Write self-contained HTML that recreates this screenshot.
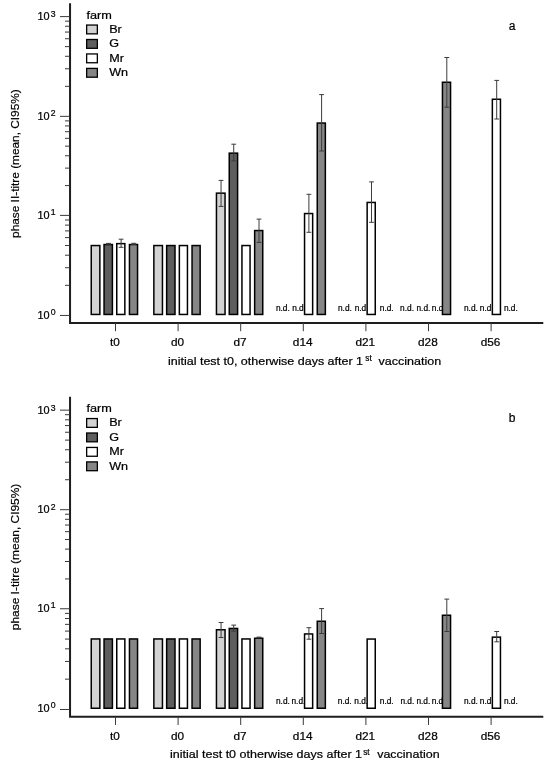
<!DOCTYPE html>
<html><head><meta charset="utf-8"><title>phase titres</title>
<style>html,body{margin:0;padding:0;background:#fff}svg{display:block}text{font-family:"Liberation Sans", Arial, sans-serif;fill:#000;stroke:#000;stroke-width:0.22px}</style>
</head><body>
<svg width="550" height="768" viewBox="0 0 550 768">
<rect width="550" height="768" fill="#fff"/>
<g>
<text x="275.9" y="311.0" font-size="8.3" stroke="#000" stroke-width="0.25">n.d.</text>
<text x="292.2" y="311.0" font-size="8.3" stroke="#000" stroke-width="0.25">n.d.</text>
<text x="338.0" y="311.0" font-size="8.3" stroke="#000" stroke-width="0.25">n.d.</text>
<text x="354.7" y="311.0" font-size="8.3" stroke="#000" stroke-width="0.25">n.d.</text>
<text x="379.8" y="311.0" font-size="8.3" stroke="#000" stroke-width="0.25">n.d.</text>
<text x="400.1" y="311.0" font-size="8.3" stroke="#000" stroke-width="0.25">n.d.</text>
<text x="416.5" y="311.0" font-size="8.3" stroke="#000" stroke-width="0.25">n.d.</text>
<text x="431.8" y="311.0" font-size="8.3" stroke="#000" stroke-width="0.25">n.d.</text>
<text x="464.0" y="311.3" font-size="8.3" stroke="#000" stroke-width="0.25">n.d.</text>
<text x="479.8" y="311.3" font-size="8.3" stroke="#000" stroke-width="0.25">n.d.</text>
<text x="503.9" y="311.3" font-size="8.3" stroke="#000" stroke-width="0.25">n.d.</text>
<rect x="91.25" y="245.55" width="8.60" height="68.90" fill="#d2d2d2" stroke="#000" stroke-width="1.5"/>
<rect x="104.05" y="244.55" width="8.35" height="69.90" fill="#5e5e5e" stroke="#000" stroke-width="1.5"/>
<path d="M108.52 243.40V244.20M106.12 243.40H110.92M106.12 244.20H110.92" fill="none" stroke="#3c3c3c" stroke-width="1"/>
<rect x="116.75" y="243.65" width="8.10" height="70.80" fill="#ffffff" stroke="#000" stroke-width="1.5"/>
<path d="M121.10 239.20V247.30M118.70 239.20H123.50M118.70 247.30H123.50" fill="none" stroke="#3c3c3c" stroke-width="1"/>
<rect x="129.45" y="244.55" width="8.10" height="69.90" fill="#868686" stroke="#000" stroke-width="1.5"/>
<path d="M133.80 243.30V244.30M131.40 243.30H136.20M131.40 244.30H136.20" fill="none" stroke="#3c3c3c" stroke-width="1"/>
<rect x="153.85" y="245.55" width="8.60" height="68.90" fill="#d2d2d2" stroke="#000" stroke-width="1.5"/>
<rect x="166.65" y="245.55" width="8.35" height="68.90" fill="#5e5e5e" stroke="#000" stroke-width="1.5"/>
<rect x="179.35" y="245.55" width="8.10" height="68.90" fill="#ffffff" stroke="#000" stroke-width="1.5"/>
<rect x="192.05" y="245.55" width="8.10" height="68.90" fill="#868686" stroke="#000" stroke-width="1.5"/>
<rect x="216.45" y="193.15" width="8.60" height="121.30" fill="#d2d2d2" stroke="#000" stroke-width="1.5"/>
<path d="M221.05 180.40V206.40M218.65 180.40H223.45M218.65 206.40H223.45" fill="none" stroke="#3c3c3c" stroke-width="1"/>
<rect x="229.25" y="153.15" width="8.35" height="161.30" fill="#5e5e5e" stroke="#000" stroke-width="1.5"/>
<path d="M233.73 144.20V160.90M231.33 144.20H236.13M231.33 160.90H236.13" fill="none" stroke="#3c3c3c" stroke-width="1"/>
<rect x="241.95" y="245.55" width="8.10" height="68.90" fill="#ffffff" stroke="#000" stroke-width="1.5"/>
<rect x="254.65" y="230.55" width="8.10" height="83.90" fill="#868686" stroke="#000" stroke-width="1.5"/>
<path d="M259.00 219.10V242.40M256.60 219.10H261.40M256.60 242.40H261.40" fill="none" stroke="#3c3c3c" stroke-width="1"/>
<rect x="304.55" y="213.55" width="8.10" height="100.90" fill="#ffffff" stroke="#000" stroke-width="1.5"/>
<path d="M308.90 194.30V232.30M306.50 194.30H311.30M306.50 232.30H311.30" fill="none" stroke="#3c3c3c" stroke-width="1"/>
<rect x="317.25" y="123.05" width="8.10" height="191.40" fill="#868686" stroke="#000" stroke-width="1.5"/>
<path d="M321.60 94.60V151.00M319.20 94.60H324.00M319.20 151.00H324.00" fill="none" stroke="#3c3c3c" stroke-width="1"/>
<rect x="367.15" y="202.45" width="8.10" height="112.00" fill="#ffffff" stroke="#000" stroke-width="1.5"/>
<path d="M371.50 181.90V222.30M369.10 181.90H373.90M369.10 222.30H373.90" fill="none" stroke="#3c3c3c" stroke-width="1"/>
<rect x="442.45" y="82.25" width="8.10" height="232.20" fill="#868686" stroke="#000" stroke-width="1.5"/>
<path d="M446.80 57.50V107.20M444.40 57.50H449.20M444.40 107.20H449.20" fill="none" stroke="#3c3c3c" stroke-width="1"/>
<rect x="492.35" y="99.25" width="8.10" height="215.20" fill="#ffffff" stroke="#000" stroke-width="1.5"/>
<path d="M496.70 80.40V119.00M494.30 80.40H499.10M494.30 119.00H499.10" fill="none" stroke="#3c3c3c" stroke-width="1"/>
<path d="M70.05 3.2V322.9H543.3" fill="none" stroke="#1e1e1e" stroke-width="2" stroke-linejoin="miter"/>
<path d="M60 315.45H69.5" stroke="#3a3a3a" stroke-width="1"/>
<text x="37.40" y="318.55" font-size="10.6" textLength="12.12" lengthAdjust="spacingAndGlyphs">10</text>
<text x="50.7" y="314.55" font-size="8.7">0</text>
<path d="M65 285.33H69.5" stroke="#3a3a3a" stroke-width="1"/>
<path d="M65 267.71H69.5" stroke="#3a3a3a" stroke-width="1"/>
<path d="M65 255.21H69.5" stroke="#3a3a3a" stroke-width="1"/>
<path d="M65 245.52H69.5" stroke="#3a3a3a" stroke-width="1"/>
<path d="M65 237.60H69.5" stroke="#3a3a3a" stroke-width="1"/>
<path d="M65 230.90H69.5" stroke="#3a3a3a" stroke-width="1"/>
<path d="M65 225.10H69.5" stroke="#3a3a3a" stroke-width="1"/>
<path d="M65 219.98H69.5" stroke="#3a3a3a" stroke-width="1"/>
<path d="M60 215.40H69.5" stroke="#3a3a3a" stroke-width="1"/>
<text x="37.40" y="218.90" font-size="10.6" textLength="12.12" lengthAdjust="spacingAndGlyphs">10</text>
<text x="50.7" y="215.00" font-size="8.7">1</text>
<path d="M65 185.58H69.5" stroke="#3a3a3a" stroke-width="1"/>
<path d="M65 168.14H69.5" stroke="#3a3a3a" stroke-width="1"/>
<path d="M65 155.77H69.5" stroke="#3a3a3a" stroke-width="1"/>
<path d="M65 146.17H69.5" stroke="#3a3a3a" stroke-width="1"/>
<path d="M65 138.32H69.5" stroke="#3a3a3a" stroke-width="1"/>
<path d="M65 131.69H69.5" stroke="#3a3a3a" stroke-width="1"/>
<path d="M65 125.95H69.5" stroke="#3a3a3a" stroke-width="1"/>
<path d="M65 120.88H69.5" stroke="#3a3a3a" stroke-width="1"/>
<path d="M60 116.35H69.5" stroke="#3a3a3a" stroke-width="1"/>
<text x="37.40" y="120.20" font-size="10.6" textLength="12.12" lengthAdjust="spacingAndGlyphs">10</text>
<text x="50.7" y="115.90" font-size="8.7">2</text>
<path d="M65 86.32H69.5" stroke="#3a3a3a" stroke-width="1"/>
<path d="M65 68.76H69.5" stroke="#3a3a3a" stroke-width="1"/>
<path d="M65 56.29H69.5" stroke="#3a3a3a" stroke-width="1"/>
<path d="M65 46.63H69.5" stroke="#3a3a3a" stroke-width="1"/>
<path d="M65 38.73H69.5" stroke="#3a3a3a" stroke-width="1"/>
<path d="M65 32.05H69.5" stroke="#3a3a3a" stroke-width="1"/>
<path d="M65 26.27H69.5" stroke="#3a3a3a" stroke-width="1"/>
<path d="M65 21.16H69.5" stroke="#3a3a3a" stroke-width="1"/>
<path d="M60 16.60H69.5" stroke="#3a3a3a" stroke-width="1"/>
<text x="37.40" y="19.70" font-size="10.6" textLength="12.12" lengthAdjust="spacingAndGlyphs">10</text>
<text x="50.7" y="17.20" font-size="8.7">3</text>
<path d="M115.50 322.9V331.2" stroke="#3a3a3a" stroke-width="1"/>
<text x="109.98" y="345.90" font-size="11.3" textLength="9.84" lengthAdjust="spacingAndGlyphs">t0</text>
<path d="M178.10 322.9V331.2" stroke="#3a3a3a" stroke-width="1"/>
<text x="170.94" y="345.90" font-size="11.3" textLength="13.13" lengthAdjust="spacingAndGlyphs">d0</text>
<path d="M240.70 322.9V331.2" stroke="#3a3a3a" stroke-width="1"/>
<text x="233.54" y="345.90" font-size="11.3" textLength="13.13" lengthAdjust="spacingAndGlyphs">d7</text>
<path d="M303.30 322.9V331.2" stroke="#3a3a3a" stroke-width="1"/>
<text x="292.86" y="345.90" font-size="11.3" textLength="19.69" lengthAdjust="spacingAndGlyphs">d14</text>
<path d="M365.90 322.9V331.2" stroke="#3a3a3a" stroke-width="1"/>
<text x="355.46" y="345.90" font-size="11.3" textLength="19.69" lengthAdjust="spacingAndGlyphs">d21</text>
<path d="M428.50 322.9V331.2" stroke="#3a3a3a" stroke-width="1"/>
<text x="418.06" y="345.90" font-size="11.3" textLength="19.69" lengthAdjust="spacingAndGlyphs">d28</text>
<path d="M491.10 322.9V331.2" stroke="#3a3a3a" stroke-width="1"/>
<text x="480.66" y="345.90" font-size="11.3" textLength="19.69" lengthAdjust="spacingAndGlyphs">d56</text>
<text x="86.50" y="18.70" font-size="11.6" textLength="25.40" lengthAdjust="spacingAndGlyphs">farm</text>
<rect x="86.65" y="25.05" width="10.7" height="8.799999999999999" fill="#d2d2d2" stroke="#000" stroke-width="1.3"/>
<text x="109.20" y="32.80" font-size="11.3" textLength="12.60" lengthAdjust="spacingAndGlyphs">Br</text>
<rect x="86.65" y="39.50" width="10.7" height="8.799999999999999" fill="#5e5e5e" stroke="#000" stroke-width="1.3"/>
<text x="109.20" y="47.25" font-size="11.3" textLength="9.80" lengthAdjust="spacingAndGlyphs">G</text>
<rect x="86.65" y="53.95" width="10.7" height="8.799999999999999" fill="#ffffff" stroke="#000" stroke-width="1.3"/>
<text x="109.20" y="61.70" font-size="11.3" textLength="14.69" lengthAdjust="spacingAndGlyphs">Mr</text>
<rect x="86.65" y="68.40" width="10.7" height="8.799999999999999" fill="#868686" stroke="#000" stroke-width="1.3"/>
<text x="109.20" y="76.15" font-size="11.3" textLength="18.90" lengthAdjust="spacingAndGlyphs">Wn</text>
<text x="508.8" y="29.70" font-size="12">a</text>
<text transform="translate(18.5 237.90) rotate(-90)" font-size="11.8" textLength="148.6" lengthAdjust="spacingAndGlyphs">phase II-titre (mean, CI95%)</text>
<text x="168" y="365" font-size="11.6" textLength="195" lengthAdjust="spacingAndGlyphs">initial test t0, otherwise days after 1</text><text x="365.3" y="361.4" font-size="8.2">st</text><text x="378.6" y="365" font-size="11.6" textLength="62.6" lengthAdjust="spacingAndGlyphs">vaccination</text>
</g>
<g>
<text x="276.0" y="704.3" font-size="8.3" stroke="#000" stroke-width="0.25">n.d.</text>
<text x="291.5" y="704.3" font-size="8.3" stroke="#000" stroke-width="0.25">n.d.</text>
<text x="337.8" y="704.3" font-size="8.3" stroke="#000" stroke-width="0.25">n.d.</text>
<text x="354.3" y="704.3" font-size="8.3" stroke="#000" stroke-width="0.25">n.d.</text>
<text x="379.8" y="704.3" font-size="8.3" stroke="#000" stroke-width="0.25">n.d.</text>
<text x="400.4" y="704.3" font-size="8.3" stroke="#000" stroke-width="0.25">n.d.</text>
<text x="416.4" y="704.3" font-size="8.3" stroke="#000" stroke-width="0.25">n.d.</text>
<text x="431.7" y="704.3" font-size="8.3" stroke="#000" stroke-width="0.25">n.d.</text>
<text x="464.0" y="704.3" font-size="8.3" stroke="#000" stroke-width="0.25">n.d.</text>
<text x="479.8" y="704.3" font-size="8.3" stroke="#000" stroke-width="0.25">n.d.</text>
<text x="503.9" y="703.9" font-size="8.3" stroke="#000" stroke-width="0.25">n.d.</text>
<rect x="91.25" y="638.95" width="8.60" height="69.30" fill="#d2d2d2" stroke="#000" stroke-width="1.5"/>
<rect x="104.05" y="638.95" width="8.35" height="69.30" fill="#5e5e5e" stroke="#000" stroke-width="1.5"/>
<rect x="116.75" y="638.95" width="8.10" height="69.30" fill="#ffffff" stroke="#000" stroke-width="1.5"/>
<rect x="129.45" y="638.95" width="8.10" height="69.30" fill="#868686" stroke="#000" stroke-width="1.5"/>
<rect x="153.85" y="638.95" width="8.60" height="69.30" fill="#d2d2d2" stroke="#000" stroke-width="1.5"/>
<rect x="166.65" y="638.95" width="8.35" height="69.30" fill="#5e5e5e" stroke="#000" stroke-width="1.5"/>
<rect x="179.35" y="638.95" width="8.10" height="69.30" fill="#ffffff" stroke="#000" stroke-width="1.5"/>
<rect x="192.05" y="638.95" width="8.10" height="69.30" fill="#868686" stroke="#000" stroke-width="1.5"/>
<rect x="216.45" y="629.75" width="8.60" height="78.50" fill="#d2d2d2" stroke="#000" stroke-width="1.5"/>
<path d="M221.05 622.50V637.50M218.65 622.50H223.45M218.65 637.50H223.45" fill="none" stroke="#3c3c3c" stroke-width="1"/>
<rect x="229.25" y="628.45" width="8.35" height="79.80" fill="#5e5e5e" stroke="#000" stroke-width="1.5"/>
<path d="M233.73 625.10V631.20M231.33 625.10H236.13M231.33 631.20H236.13" fill="none" stroke="#3c3c3c" stroke-width="1"/>
<rect x="241.95" y="638.95" width="8.10" height="69.30" fill="#ffffff" stroke="#000" stroke-width="1.5"/>
<rect x="254.65" y="638.25" width="8.10" height="70.00" fill="#868686" stroke="#000" stroke-width="1.5"/>
<path d="M259.00 637.10V637.90M256.60 637.10H261.40M256.60 637.90H261.40" fill="none" stroke="#3c3c3c" stroke-width="1"/>
<rect x="304.55" y="633.95" width="8.10" height="74.30" fill="#ffffff" stroke="#000" stroke-width="1.5"/>
<path d="M308.90 627.70V639.20M306.50 627.70H311.30M306.50 639.20H311.30" fill="none" stroke="#3c3c3c" stroke-width="1"/>
<rect x="317.25" y="621.25" width="8.10" height="87.00" fill="#868686" stroke="#000" stroke-width="1.5"/>
<path d="M321.60 608.60V633.50M319.20 608.60H324.00M319.20 633.50H324.00" fill="none" stroke="#3c3c3c" stroke-width="1"/>
<rect x="367.15" y="639.05" width="8.10" height="69.20" fill="#ffffff" stroke="#000" stroke-width="1.5"/>
<rect x="442.45" y="615.25" width="8.10" height="93.00" fill="#868686" stroke="#000" stroke-width="1.5"/>
<path d="M446.80 599.10V631.50M444.40 599.10H449.20M444.40 631.50H449.20" fill="none" stroke="#3c3c3c" stroke-width="1"/>
<rect x="492.35" y="637.15" width="8.10" height="71.10" fill="#ffffff" stroke="#000" stroke-width="1.5"/>
<path d="M496.70 631.50V641.80M494.30 631.50H499.10M494.30 641.80H499.10" fill="none" stroke="#3c3c3c" stroke-width="1"/>
<path d="M70.05 396.8V716.7H543.3" fill="none" stroke="#1e1e1e" stroke-width="2" stroke-linejoin="miter"/>
<path d="M60 709.50H69.5" stroke="#3a3a3a" stroke-width="1"/>
<text x="37.40" y="712.00" font-size="10.6" textLength="12.12" lengthAdjust="spacingAndGlyphs">10</text>
<text x="50.7" y="708.30" font-size="8.7">0</text>
<path d="M65 679.17H69.5" stroke="#3a3a3a" stroke-width="1"/>
<path d="M65 661.43H69.5" stroke="#3a3a3a" stroke-width="1"/>
<path d="M65 648.84H69.5" stroke="#3a3a3a" stroke-width="1"/>
<path d="M65 639.08H69.5" stroke="#3a3a3a" stroke-width="1"/>
<path d="M65 631.10H69.5" stroke="#3a3a3a" stroke-width="1"/>
<path d="M65 624.36H69.5" stroke="#3a3a3a" stroke-width="1"/>
<path d="M65 618.51H69.5" stroke="#3a3a3a" stroke-width="1"/>
<path d="M65 613.36H69.5" stroke="#3a3a3a" stroke-width="1"/>
<path d="M60 608.75H69.5" stroke="#3a3a3a" stroke-width="1"/>
<text x="37.40" y="612.05" font-size="10.6" textLength="12.12" lengthAdjust="spacingAndGlyphs">10</text>
<text x="50.7" y="608.15" font-size="8.7">1</text>
<path d="M65 578.93H69.5" stroke="#3a3a3a" stroke-width="1"/>
<path d="M65 561.49H69.5" stroke="#3a3a3a" stroke-width="1"/>
<path d="M65 549.12H69.5" stroke="#3a3a3a" stroke-width="1"/>
<path d="M65 539.52H69.5" stroke="#3a3a3a" stroke-width="1"/>
<path d="M65 531.67H69.5" stroke="#3a3a3a" stroke-width="1"/>
<path d="M65 525.04H69.5" stroke="#3a3a3a" stroke-width="1"/>
<path d="M65 519.30H69.5" stroke="#3a3a3a" stroke-width="1"/>
<path d="M65 514.23H69.5" stroke="#3a3a3a" stroke-width="1"/>
<path d="M60 509.70H69.5" stroke="#3a3a3a" stroke-width="1"/>
<text x="37.40" y="513.15" font-size="10.6" textLength="12.12" lengthAdjust="spacingAndGlyphs">10</text>
<text x="50.7" y="509.55" font-size="8.7">2</text>
<path d="M65 479.73H69.5" stroke="#3a3a3a" stroke-width="1"/>
<path d="M65 462.20H69.5" stroke="#3a3a3a" stroke-width="1"/>
<path d="M65 449.76H69.5" stroke="#3a3a3a" stroke-width="1"/>
<path d="M65 440.12H69.5" stroke="#3a3a3a" stroke-width="1"/>
<path d="M65 432.24H69.5" stroke="#3a3a3a" stroke-width="1"/>
<path d="M65 425.57H69.5" stroke="#3a3a3a" stroke-width="1"/>
<path d="M65 419.80H69.5" stroke="#3a3a3a" stroke-width="1"/>
<path d="M65 414.71H69.5" stroke="#3a3a3a" stroke-width="1"/>
<path d="M60 410.15H69.5" stroke="#3a3a3a" stroke-width="1"/>
<text x="37.40" y="413.75" font-size="10.6" textLength="12.12" lengthAdjust="spacingAndGlyphs">10</text>
<text x="50.7" y="410.65" font-size="8.7">3</text>
<path d="M115.50 716.7V725.0" stroke="#3a3a3a" stroke-width="1"/>
<text x="109.98" y="739.70" font-size="11.3" textLength="9.84" lengthAdjust="spacingAndGlyphs">t0</text>
<path d="M178.10 716.7V725.0" stroke="#3a3a3a" stroke-width="1"/>
<text x="170.94" y="739.70" font-size="11.3" textLength="13.13" lengthAdjust="spacingAndGlyphs">d0</text>
<path d="M240.70 716.7V725.0" stroke="#3a3a3a" stroke-width="1"/>
<text x="233.54" y="739.70" font-size="11.3" textLength="13.13" lengthAdjust="spacingAndGlyphs">d7</text>
<path d="M303.30 716.7V725.0" stroke="#3a3a3a" stroke-width="1"/>
<text x="292.86" y="739.70" font-size="11.3" textLength="19.69" lengthAdjust="spacingAndGlyphs">d14</text>
<path d="M365.90 716.7V725.0" stroke="#3a3a3a" stroke-width="1"/>
<text x="355.46" y="739.70" font-size="11.3" textLength="19.69" lengthAdjust="spacingAndGlyphs">d21</text>
<path d="M428.50 716.7V725.0" stroke="#3a3a3a" stroke-width="1"/>
<text x="418.06" y="739.70" font-size="11.3" textLength="19.69" lengthAdjust="spacingAndGlyphs">d28</text>
<path d="M491.10 716.7V725.0" stroke="#3a3a3a" stroke-width="1"/>
<text x="480.66" y="739.70" font-size="11.3" textLength="19.69" lengthAdjust="spacingAndGlyphs">d56</text>
<text x="86.50" y="412.20" font-size="11.6" textLength="25.40" lengthAdjust="spacingAndGlyphs">farm</text>
<rect x="86.65" y="418.55" width="10.7" height="8.799999999999999" fill="#d2d2d2" stroke="#000" stroke-width="1.3"/>
<text x="109.20" y="426.30" font-size="11.3" textLength="12.60" lengthAdjust="spacingAndGlyphs">Br</text>
<rect x="86.65" y="433.00" width="10.7" height="8.799999999999999" fill="#5e5e5e" stroke="#000" stroke-width="1.3"/>
<text x="109.20" y="440.75" font-size="11.3" textLength="9.80" lengthAdjust="spacingAndGlyphs">G</text>
<rect x="86.65" y="447.45" width="10.7" height="8.799999999999999" fill="#ffffff" stroke="#000" stroke-width="1.3"/>
<text x="109.20" y="455.20" font-size="11.3" textLength="14.69" lengthAdjust="spacingAndGlyphs">Mr</text>
<rect x="86.65" y="461.90" width="10.7" height="8.799999999999999" fill="#868686" stroke="#000" stroke-width="1.3"/>
<text x="109.20" y="469.65" font-size="11.3" textLength="18.90" lengthAdjust="spacingAndGlyphs">Wn</text>
<text x="508.8" y="422.30" font-size="12">b</text>
<text transform="translate(18.5 630.20) rotate(-90)" font-size="11.8" textLength="146.5" lengthAdjust="spacingAndGlyphs">phase I-titre (mean, CI95%)</text>
<text x="170" y="758.3" font-size="11.6" textLength="192" lengthAdjust="spacingAndGlyphs">initial test t0 otherwise days after 1</text><text x="363.2" y="754.8" font-size="8.2">st</text><text x="377.2" y="758.3" font-size="11.6" textLength="62.4" lengthAdjust="spacingAndGlyphs">vaccination</text>
</g>
</svg>
</body></html>
